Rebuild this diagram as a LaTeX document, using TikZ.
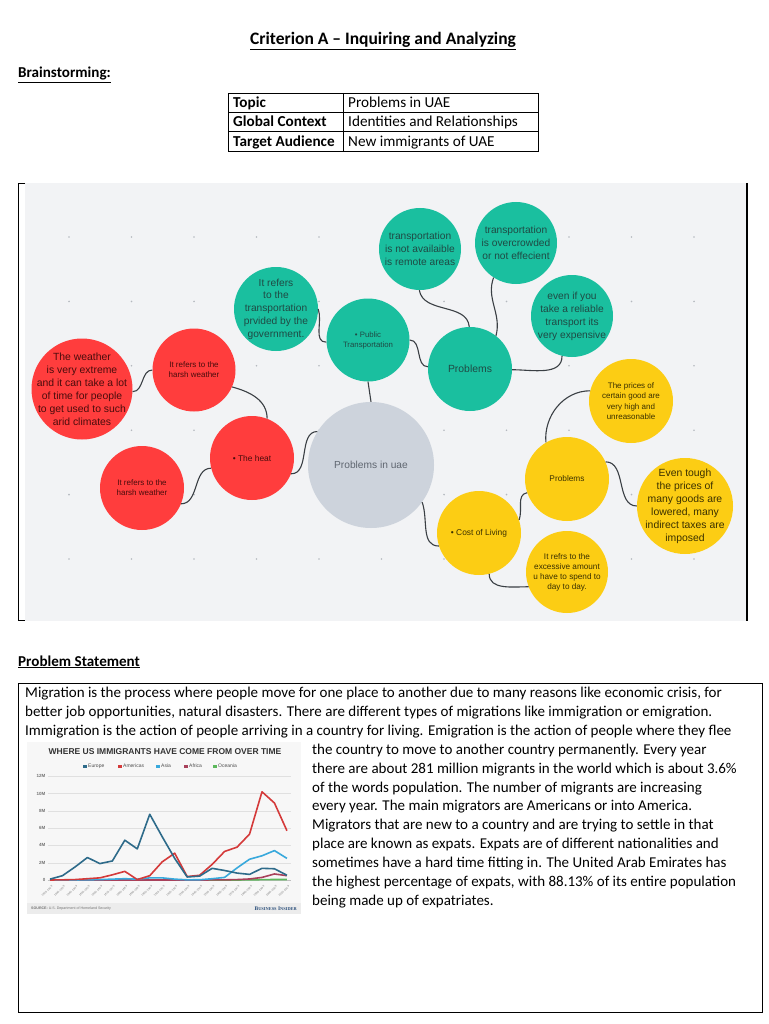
\documentclass[tikz,border=0pt]{standalone}
\usepackage{fontspec}
\setmainfont{Carlito}
\newfontfamily\arialf{Liberation Sans}
\newfontfamily\serifx{Liberation Serif}
\newcommand\fsz[2]{\fontsize{#1}{#2}\selectfont}
\definecolor{mmbg}{HTML}{F2F3F5}
\definecolor{mmdot}{HTML}{B5B9BF}
\definecolor{mmred}{HTML}{FF3D3D}
\definecolor{mmteal}{HTML}{1ABF9F}
\definecolor{mmyel}{HTML}{FCCD14}
\definecolor{mmgrey}{HTML}{CDD3DC}
\definecolor{redtxt}{HTML}{4A0C0C}
\definecolor{tealtxt}{HTML}{1F4A44}
\definecolor{yeltxt}{HTML}{3A3000}
\definecolor{greytxt}{HTML}{5F6670}
\definecolor{linkc}{HTML}{3A3F44}
\definecolor{cEur}{HTML}{2E6B8A}
\definecolor{cAme}{HTML}{D43A3A}
\definecolor{cAsi}{HTML}{39A9DC}
\definecolor{cAfr}{HTML}{A8415B}
\definecolor{cOce}{HTML}{5CB85C}
\definecolor{chartbg}{HTML}{F7F7F7}
\definecolor{chartft}{HTML}{ECECEC}
\definecolor{bizblue}{HTML}{2A4E7A}
\begin{document}
\begin{tikzpicture}[x=1pt,y=1pt,
  bub/.style={circle, inner sep=0pt, draw=none},
  redb/.style={bub, fill=mmred},
  tealb/.style={bub, fill=mmteal},
  yelb/.style={bub, fill=mmyel},
  lbl/.style={align=center, inner sep=0pt},
  redl/.style={lbl, text=redtxt},
  teall/.style={lbl, text=tealtxt},
  yell/.style={lbl, text=yeltxt},
  link/.style={draw=linkc, line width=1.1pt},
  bodyline/.style={anchor=base west, inner sep=0pt, font=\fsz{15}{17}},
  cell/.style={anchor=base west, inner sep=0pt, font=\fsz{15.2}{17}},
  cellb/.style={cell, font=\bfseries\fsz{15.2}{17}},
  axlab/.style={font=\arialf\bfseries\fsz{4.5}{5}, text=black!55, inner sep=0pt},
  leglab/.style={font=\arialf\fsz{5}{6}, text=black!70, inner sep=0pt, anchor=west},
  chartgrid/.style={draw=black!12, line width=0.4pt},
  series/.style={line width=1.6pt, line join=round}
]
\useasboundingbox[fill=white] (0,0) rectangle (768,-1024);

% ---- headings ----
\node[anchor=base, inner sep=0pt, font=\bfseries\fsz{17.5}{20}] (title) at (383,-45) {\underline{Criterion A – Inquiring and Analyzing}};
\node[anchor=base west, inner sep=0pt, font=\bfseries\fsz{15.1}{17}] (brain) at (18,-78) {\underline{Brainstorming:}};

% ---- table ----
\draw[line width=0.8pt] (228,-93) rectangle (538,-151);
\draw[line width=0.6pt] (228,-112.3) -- (538,-112.3) (228,-131.7) -- (538,-131.7) (343,-93) -- (343,-151);
\node[cellb] (t1a) at (233,-107.5) {Topic};
\node[cell]  (t1b) at (348,-107.5) {Problems in UAE};
\node[cellb] (t2a) at (233,-127) {Global Context};
\node[cell]  (t2b) at (348,-127) {Identities and Relationships};
\node[cellb] (t3a) at (233,-146.5) {Target Audience};
\node[cell]  (t3b) at (348,-146.5) {New immigrants of UAE};

% ---- mind map frame ----
\fill[mmbg] (25,-183) rectangle (746,-621);
\draw[line width=1pt] (25,-183.5) -- (18.5,-183.5) -- (18.5,-620.5) -- (25,-620.5);
\draw[line width=1.2pt] (747,-183) -- (747,-621);
\foreach \i in {0,...,10}{
  \foreach \j in {0,...,5}{
    \fill[mmdot] (69+\i*62.5, -237-\j*64.4) circle (0.9);
  }
}

% ---- bubbles ----
\node[redb, minimum size=101pt, label={[redl, font=\arialf\fsz{10.4}{13}]center:{The weather\\is very extreme\\and it can take a lot\\of time for people\\to get used to such\\arid climates}}] (R1) at (82,-389) {};
\node[redb, minimum size=83pt, label={[redl, font=\arialf\fsz{8}{10}]center:{It refers to the\\harsh weather}}] (R2) at (194,-370) {};
\node[redb, minimum size=84pt, label={[redl, font=\arialf\fsz{8}{10}]center:{It refers to the\\harsh weather}}] (R3) at (142,-488) {};
\node[redb, minimum size=84pt, label={[redl, font=\arialf\fsz{8.4}{10}]center:{\textbullet\ The heat}}] (R4) at (252,-458) {};

\node[bub, fill=mmgrey, minimum size=126pt, label={[lbl, text=greytxt, font=\arialf\fsz{10.2}{12}]center:{Problems in uae}}] (C) at (371,-465) {};

\node[tealb, minimum size=84pt, label={[teall, font=\arialf\fsz{10.2}{12.8}]center:{It refers\\to the\\transportation\\prvided by the\\government.}}] (T1) at (276,-309) {};
\node[tealb, minimum size=83pt, label={[teall, font=\arialf\fsz{7.8}{10}]center:{\textbullet\ Public\\Transportation}}] (T2) at (368,-340) {};
\node[tealb, minimum size=82pt, label={[teall, font=\arialf\fsz{10.2}{13}]center:{transportation\\is not availaible\\is remote areas}}] (T3) at (420,-249) {};
\node[tealb, minimum size=82pt, label={[teall, font=\arialf\fsz{10.2}{13}]center:{transportation\\is overcrowded\\or not effecient}}] (T4) at (516,-243) {};
\node[tealb, minimum size=82pt, label={[teall, font=\arialf\fsz{10.2}{13}]center:{even if you\\take a reliable\\transport its\\very expensive}}] (T5) at (572,-316) {};
\node[tealb, minimum size=84pt, label={[teall, font=\arialf\fsz{10.4}{12}]center:{Problems}}] (T6) at (470,-369) {};

\node[yelb, minimum size=84pt, label={[yell, font=\arialf\fsz{8}{10.3}]center:{The prices of\\certain good are\\very high and\\unreasonable}}] (Y1) at (631,-401) {};
\node[yelb, minimum size=84pt, label={[yell, font=\arialf\fsz{8.3}{10}]center:{Problems}}] (Y2) at (567,-479) {};
\node[yelb, minimum size=96pt, label={[yell, font=\arialf\fsz{10.4}{13}]center:{Even tough\\the prices of\\many goods are\\lowered, many\\indirect taxes are\\imposed}}] (Y3) at (685,-506) {};
\node[yelb, minimum size=84pt, label={[yell, font=\arialf\fsz{8.4}{10}]center:{\textbullet\ Cost of Living}}] (Y4) at (479,-533) {};
\node[yelb, minimum size=82pt, label={[yell, font=\arialf\fsz{8.2}{10}]center:{It refrs to the\\excessive amount\\u have to spend to\\day to day.}}] (Y5) at (567,-572) {};

% ---- connectors ----
\draw[link] (R1.-3) to[out=0,in=180] (R2.180);
\draw[link] (R2.-24) to[out=-15,in=90] (R4.69);
\draw[link] (R3.-22) to[out=0,in=180] (R4.-166);
\draw[link] (R4.-22) to[out=0,in=180] (C.148);
\draw[link] (T1.0) to[out=-70,in=180] (T2.183);
\draw[link] (T2.south) -- (C.north);
\draw[link] (T2.0) to[out=0,in=180] (T6.177);
\draw[link] (T3.-91) to[out=-80,in=95] (T6.91);
\draw[link] (T4.-123) to[out=-110,in=75] (T6.52);
\draw[link] (T6.-1) to[out=0,in=-90] (T5.-104);
\draw[link] (C.-36) to[out=-70,in=180] (Y4.-162);
\draw[link] (Y4.18) to[out=70,in=190] (Y2.199);
\draw[link] (Y4.-76) to[out=-90,in=180] (Y5.-159);
\draw[link] (Y2.120) to[out=95,in=180] (Y1.166);
\draw[link] (Y2.24) to[out=0,in=180] (Y3.180);

% ---- problem statement ----
\node[anchor=base west, inner sep=0pt, font=\bfseries\fsz{15.1}{17}] (prob) at (18,-666) {\underline{Problem Statement}};
\draw[line width=0.9pt] (18.5,-683) rectangle (762,-1012);

\node[bodyline] (b1) at (25,-697.5) {Migration is the process where people move for one place to another due to many reasons like economic crisis, for};
\node[bodyline] (b2) at (25,-716.4) {better job opportunities, natural disasters. There are different types of migrations like immigration or emigration.};
\node[bodyline] (b3) at (25,-735.3) {Immigration is the action of people arriving in a country for living. Emigration is the action of people where they flee};
\node[bodyline] (b4) at (312,-754.2) {the country to move to another country permanently. Every year};
\node[bodyline] (b5) at (312,-773.1) {there are about 281 million migrants in the world which is about 3.6\%};
\node[bodyline] (b6) at (312,-792.0) {of the words population. The number of migrants are increasing};
\node[bodyline] (b7) at (312,-810.9) {every year. The main migrators are Americans or into America.};
\node[bodyline] (b8) at (312,-829.8) {Migrators that are new to a country and are trying to settle in that};
\node[bodyline] (b9) at (312,-848.7) {place are known as expats. Expats are of different nationalities and};
\node[bodyline] (b10) at (312,-867.6) {sometimes have a hard time fitting in. The United Arab Emirates has};
\node[bodyline] (b11) at (312,-886.5) {the highest percentage of expats, with 88.13\% of its entire population};
\node[bodyline] (b12) at (312,-905.4) {being made up of expatriates.};

% ---- chart ----
\fill[chartbg] (27,-742) rectangle (301,-914);
\fill[chartft] (27,-903) rectangle (301,-914);
\node[font=\arialf\bfseries\fsz{8.5}{9}, text=black!80, inner sep=0pt] (ctitle) at (165,-752) {WHERE US IMMIGRANTS HAVE COME FROM OVER TIME};
\fill[cEur] (83,-764.5) rectangle (86.5,-768); \node[leglab] (lg1) at (88,-766.2) {Europe};
\fill[cAme] (118,-764.5) rectangle (121.5,-768); \node[leglab] (lg2) at (123,-766.2) {Americas};
\fill[cAsi] (156,-764.5) rectangle (159.5,-768); \node[leglab] (lg3) at (161,-766.2) {Asia};
\fill[cAfr] (184,-764.5) rectangle (187.5,-768); \node[leglab] (lg4) at (189,-766.2) {Africa};
\fill[cOce] (213,-764.5) rectangle (216.5,-768); \node[leglab] (lg5) at (218,-766.2) {Oceania};
\begin{scope}[shift={(50,-880)}, x=12.47pt, y=8.65pt]
  \foreach \v in {2,4,...,12}{
    \draw[chartgrid] (-0.2,\v) -- (19.3,\v);
    \node[axlab, anchor=east] at (-0.35,\v) {\v M};
  }
  \draw[draw=black!25, line width=0.5pt] (-0.2,0) -- (19.3,0);
  \node[axlab, anchor=east] at (-0.35,0) {0};
  \foreach \d [count=\k from 0] in {1820,1830,...,2010}{
    \pgfmathtruncatemacro\e{\d+9}
    \node[font=\arialf\fsz{2.8}{3}, text=black!50, inner sep=0pt, anchor=north east, rotate=45] at (\k+0.1,-0.6) {\d–\e};
  }
  \draw[series, cOce] plot coordinates {(0,0)(1,0)(2,0)(3,0)(4,0)(5,0)(6,0)(7,0)(8,0)(9,0)(10,0)(11,0)(12,0)(13,0)(14,0)(15,0)(16,0.02)(17,0.04)(18,0.06)(19,0.06)};
  \draw[series, cAfr] plot coordinates {(0,0)(1,0)(2,0)(3,0)(4,0)(5,0)(6,0)(7,0)(8,0)(9,0)(10,0)(11,0)(12,0)(13,0.01)(14,0.02)(15,0.05)(16,0.12)(17,0.3)(18,0.7)(19,0.5)};
  \draw[series, cAsi] plot coordinates {(0,0)(1,0)(2,0)(3,0.02)(4,0.05)(5,0.1)(6,0.15)(7,0.1)(8,0.25)(9,0.25)(10,0.1)(11,0.02)(12,0.03)(13,0.15)(14,0.3)(15,1.4)(16,2.4)(17,2.8)(18,3.4)(19,2.5)};
  \draw[series, cAme] plot coordinates {(0,0)(1,0.02)(2,0.05)(3,0.15)(4,0.25)(5,0.6)(6,1.0)(7,0.05)(8,0.5)(9,2.1)(10,3.1)(11,0.4)(12,0.55)(13,1.8)(14,3.3)(15,3.8)(16,5.3)(17,10.2)(18,8.9)(19,5.7)};
  \draw[series, cEur] plot coordinates {(0,0.1)(1,0.5)(2,1.5)(3,2.6)(4,1.9)(5,2.2)(6,4.6)(7,3.6)(8,7.6)(9,5.0)(10,2.5)(11,0.35)(12,0.45)(13,1.35)(14,1.1)(15,0.8)(16,0.65)(17,1.35)(18,1.3)(19,0.55)};
\end{scope}
\node[anchor=west, inner sep=0pt, font=\arialf\fsz{3.6}{4}, text=black!55] (csrc) at (31,-908.5) {\textbf{SOURCE:} U.S. Department of Homeland Security};
\node[anchor=east, inner sep=0pt, font=\serifx\bfseries\fsz{5.5}{6}, text=bizblue] (cbiz) at (297,-908.5) {B\scalebox{0.8}{USINESS} I\scalebox{0.8}{NSIDER}};
\end{tikzpicture}
\end{document}
